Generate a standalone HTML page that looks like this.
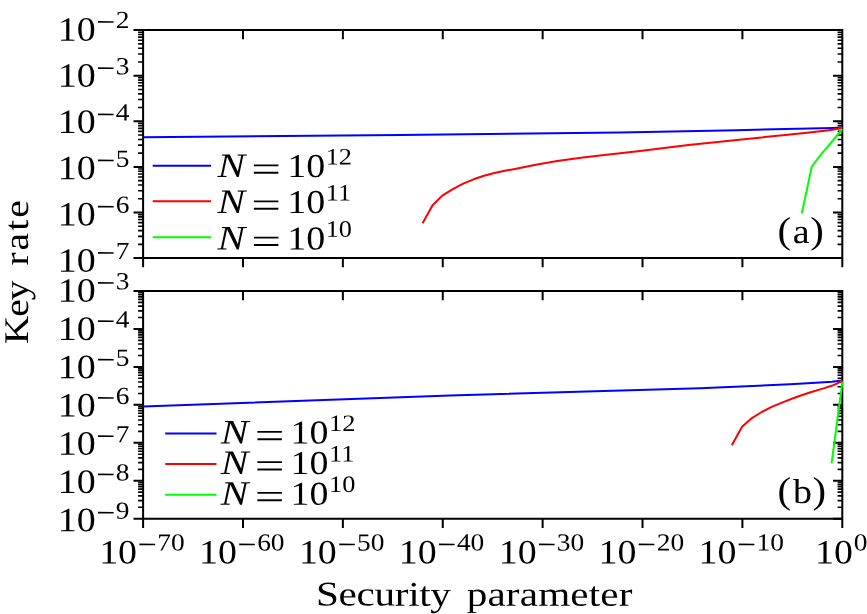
<!DOCTYPE html>
<html><head><meta charset="utf-8"><title>Key rate vs security parameter</title>
<style>
html,body{margin:0;padding:0;background:#fff}
svg{display:block}
text{font-family:"Liberation Serif",serif;fill:#000;text-rendering:geometricPrecision}
.ax{stroke:#000;stroke-width:2;fill:none}
.mt{stroke:#000;stroke-width:1.6;fill:none}
.c{fill:none;stroke-width:2;stroke-linejoin:round}
.b{stroke:#0000ff}.r{stroke:#ff0000}.g{stroke:#00ff00}
</style></head><body>
<svg width="867" height="614" viewBox="0 0 867 614">
<rect width="867" height="614" fill="#fff"/>
<path d="M133.50 30.10H843.30M133.50 258.10H843.30M143.10 29.10V267.30M842.30 29.10V267.30" class="ax"/>
<path d="M833.00 30.10H842.30M133.50 75.70H143.10M833.00 75.70H842.30M133.50 121.30H143.10M833.00 121.30H842.30M133.50 166.90H143.10M833.00 166.90H842.30M133.50 212.50H143.10M833.00 212.50H842.30M833.00 258.10H842.30M242.99 30.10v9.2M242.99 258.10v9.2M342.87 30.10v9.2M342.87 258.10v9.2M442.76 30.10v9.2M442.76 258.10v9.2M542.64 30.10v9.2M542.64 258.10v9.2M642.53 30.10v9.2M642.53 258.10v9.2M742.41 30.10v9.2M742.41 258.10v9.2" class="ax"/>
<path d="M138.10 61.97H143.10M837.60 61.97H842.30M138.10 53.94H143.10M837.60 53.94H842.30M138.10 48.25H143.10M837.60 48.25H842.30M138.10 43.83H143.10M837.60 43.83H842.30M138.10 40.22H143.10M837.60 40.22H842.30M138.10 37.16H143.10M837.60 37.16H842.30M138.10 34.52H143.10M837.60 34.52H842.30M138.10 32.19H143.10M837.60 32.19H842.30M138.10 107.57H143.10M837.60 107.57H842.30M138.10 99.54H143.10M837.60 99.54H842.30M138.10 93.85H143.10M837.60 93.85H842.30M138.10 89.43H143.10M837.60 89.43H842.30M138.10 85.82H143.10M837.60 85.82H842.30M138.10 82.76H143.10M837.60 82.76H842.30M138.10 80.12H143.10M837.60 80.12H842.30M138.10 77.79H143.10M837.60 77.79H842.30M138.10 153.17H143.10M837.60 153.17H842.30M138.10 145.14H143.10M837.60 145.14H842.30M138.10 139.45H143.10M837.60 139.45H842.30M138.10 135.03H143.10M837.60 135.03H842.30M138.10 131.42H143.10M837.60 131.42H842.30M138.10 128.36H143.10M837.60 128.36H842.30M138.10 125.72H143.10M837.60 125.72H842.30M138.10 123.39H143.10M837.60 123.39H842.30M138.10 198.77H143.10M837.60 198.77H842.30M138.10 190.74H143.10M837.60 190.74H842.30M138.10 185.05H143.10M837.60 185.05H842.30M138.10 180.63H143.10M837.60 180.63H842.30M138.10 177.02H143.10M837.60 177.02H842.30M138.10 173.96H143.10M837.60 173.96H842.30M138.10 171.32H143.10M837.60 171.32H842.30M138.10 168.99H143.10M837.60 168.99H842.30M138.10 244.37H143.10M837.60 244.37H842.30M138.10 236.34H143.10M837.60 236.34H842.30M138.10 230.65H143.10M837.60 230.65H842.30M138.10 226.23H143.10M837.60 226.23H842.30M138.10 222.62H143.10M837.60 222.62H842.30M138.10 219.56H143.10M837.60 219.56H842.30M138.10 216.92H143.10M837.60 216.92H842.30M138.10 214.59H143.10M837.60 214.59H842.30" class="mt"/>
<text transform="translate(57.68 40.64) scale(1.1094 1) rotate(0.03)" font-size="34.20">10</text>
<text transform="translate(96.21 33.25) scale(0.9930 1) rotate(0.03)" font-size="34.00">−</text>
<text transform="translate(115.80 28.04) scale(1.1150 1) rotate(0.03)" font-size="24.60">2</text>
<text transform="translate(57.68 86.84) scale(1.1094 1) rotate(0.03)" font-size="34.20">10</text>
<text transform="translate(96.21 79.44) scale(0.9930 1) rotate(0.03)" font-size="34.00">−</text>
<text transform="translate(115.80 74.24) scale(1.1150 1) rotate(0.03)" font-size="24.60">3</text>
<text transform="translate(57.68 133.04) scale(1.1094 1) rotate(0.03)" font-size="34.20">10</text>
<text transform="translate(96.21 125.64) scale(0.9930 1) rotate(0.03)" font-size="34.00">−</text>
<text transform="translate(115.80 120.44) scale(1.1150 1) rotate(0.03)" font-size="24.60">4</text>
<text transform="translate(57.68 179.24) scale(1.1094 1) rotate(0.03)" font-size="34.20">10</text>
<text transform="translate(96.21 171.84) scale(0.9930 1) rotate(0.03)" font-size="34.00">−</text>
<text transform="translate(115.80 166.64) scale(1.1150 1) rotate(0.03)" font-size="24.60">5</text>
<text transform="translate(57.68 225.44) scale(1.1094 1) rotate(0.03)" font-size="34.20">10</text>
<text transform="translate(96.21 218.04) scale(0.9930 1) rotate(0.03)" font-size="34.00">−</text>
<text transform="translate(115.80 212.84) scale(1.1150 1) rotate(0.03)" font-size="24.60">6</text>
<text transform="translate(57.68 271.64) scale(1.1094 1) rotate(0.03)" font-size="34.20">10</text>
<text transform="translate(96.21 264.24) scale(0.9930 1) rotate(0.03)" font-size="34.00">−</text>
<text transform="translate(115.80 259.04) scale(1.1150 1) rotate(0.03)" font-size="24.60">7</text>
<path d="M133.50 291.00H843.30M133.50 518.70H843.30M143.10 290.00V527.90M842.30 290.00V527.90" class="ax"/>
<path d="M833.00 291.00H842.30M133.50 328.95H143.10M833.00 328.95H842.30M133.50 366.90H143.10M833.00 366.90H842.30M133.50 404.85H143.10M833.00 404.85H842.30M133.50 442.80H143.10M833.00 442.80H842.30M133.50 480.75H143.10M833.00 480.75H842.30M833.00 518.70H842.30M242.99 291.00v9.2M242.99 518.70v9.2M342.87 291.00v9.2M342.87 518.70v9.2M442.76 291.00v9.2M442.76 518.70v9.2M542.64 291.00v9.2M542.64 518.70v9.2M642.53 291.00v9.2M642.53 518.70v9.2M742.41 291.00v9.2M742.41 518.70v9.2" class="ax"/>
<path d="M138.10 317.53H143.10M837.60 317.53H842.30M138.10 310.84H143.10M837.60 310.84H842.30M138.10 306.10H143.10M837.60 306.10H842.30M138.10 302.42H143.10M837.60 302.42H842.30M138.10 299.42H143.10M837.60 299.42H842.30M138.10 296.88H143.10M837.60 296.88H842.30M138.10 294.68H143.10M837.60 294.68H842.30M138.10 292.74H143.10M837.60 292.74H842.30M138.10 355.48H143.10M837.60 355.48H842.30M138.10 348.79H143.10M837.60 348.79H842.30M138.10 344.05H143.10M837.60 344.05H842.30M138.10 340.37H143.10M837.60 340.37H842.30M138.10 337.37H143.10M837.60 337.37H842.30M138.10 334.83H143.10M837.60 334.83H842.30M138.10 332.63H143.10M837.60 332.63H842.30M138.10 330.69H143.10M837.60 330.69H842.30M138.10 393.43H143.10M837.60 393.43H842.30M138.10 386.74H143.10M837.60 386.74H842.30M138.10 382.00H143.10M837.60 382.00H842.30M138.10 378.32H143.10M837.60 378.32H842.30M138.10 375.32H143.10M837.60 375.32H842.30M138.10 372.78H143.10M837.60 372.78H842.30M138.10 370.58H143.10M837.60 370.58H842.30M138.10 368.64H143.10M837.60 368.64H842.30M138.10 431.38H143.10M837.60 431.38H842.30M138.10 424.69H143.10M837.60 424.69H842.30M138.10 419.95H143.10M837.60 419.95H842.30M138.10 416.27H143.10M837.60 416.27H842.30M138.10 413.27H143.10M837.60 413.27H842.30M138.10 410.73H143.10M837.60 410.73H842.30M138.10 408.53H143.10M837.60 408.53H842.30M138.10 406.59H143.10M837.60 406.59H842.30M138.10 469.33H143.10M837.60 469.33H842.30M138.10 462.64H143.10M837.60 462.64H842.30M138.10 457.90H143.10M837.60 457.90H842.30M138.10 454.22H143.10M837.60 454.22H842.30M138.10 451.22H143.10M837.60 451.22H842.30M138.10 448.68H143.10M837.60 448.68H842.30M138.10 446.48H143.10M837.60 446.48H842.30M138.10 444.54H143.10M837.60 444.54H842.30M138.10 507.28H143.10M837.60 507.28H842.30M138.10 500.59H143.10M837.60 500.59H842.30M138.10 495.85H143.10M837.60 495.85H842.30M138.10 492.17H143.10M837.60 492.17H842.30M138.10 489.17H143.10M837.60 489.17H842.30M138.10 486.63H143.10M837.60 486.63H842.30M138.10 484.43H143.10M837.60 484.43H842.30M138.10 482.49H143.10M837.60 482.49H842.30" class="mt"/>
<text transform="translate(57.68 301.74) scale(1.1094 1) rotate(0.03)" font-size="34.20">10</text>
<text transform="translate(96.21 294.35) scale(0.9930 1) rotate(0.03)" font-size="34.00">−</text>
<text transform="translate(115.80 289.14) scale(1.1150 1) rotate(0.03)" font-size="24.60">3</text>
<text transform="translate(57.68 340.00) scale(1.1094 1) rotate(0.03)" font-size="34.20">10</text>
<text transform="translate(96.21 332.61) scale(0.9930 1) rotate(0.03)" font-size="34.00">−</text>
<text transform="translate(115.80 327.40) scale(1.1150 1) rotate(0.03)" font-size="24.60">4</text>
<text transform="translate(57.68 378.27) scale(1.1094 1) rotate(0.03)" font-size="34.20">10</text>
<text transform="translate(96.21 370.88) scale(0.9930 1) rotate(0.03)" font-size="34.00">−</text>
<text transform="translate(115.80 365.67) scale(1.1150 1) rotate(0.03)" font-size="24.60">5</text>
<text transform="translate(57.68 416.54) scale(1.1094 1) rotate(0.03)" font-size="34.20">10</text>
<text transform="translate(96.21 409.14) scale(0.9930 1) rotate(0.03)" font-size="34.00">−</text>
<text transform="translate(115.80 403.94) scale(1.1150 1) rotate(0.03)" font-size="24.60">6</text>
<text transform="translate(57.68 454.80) scale(1.1094 1) rotate(0.03)" font-size="34.20">10</text>
<text transform="translate(96.21 447.41) scale(0.9930 1) rotate(0.03)" font-size="34.00">−</text>
<text transform="translate(115.80 442.20) scale(1.1150 1) rotate(0.03)" font-size="24.60">7</text>
<text transform="translate(57.68 493.06) scale(1.1094 1) rotate(0.03)" font-size="34.20">10</text>
<text transform="translate(96.21 485.67) scale(0.9930 1) rotate(0.03)" font-size="34.00">−</text>
<text transform="translate(115.80 480.46) scale(1.1150 1) rotate(0.03)" font-size="24.60">8</text>
<text transform="translate(57.68 531.33) scale(1.1094 1) rotate(0.03)" font-size="34.20">10</text>
<text transform="translate(96.21 523.94) scale(0.9930 1) rotate(0.03)" font-size="34.00">−</text>
<text transform="translate(115.80 518.73) scale(1.1150 1) rotate(0.03)" font-size="24.60">9</text>
<text transform="translate(99.13 563.40) scale(1.1094 1) rotate(0.03)" font-size="34.20">10</text>
<text transform="translate(137.66 555.81) scale(0.9930 1) rotate(0.03)" font-size="34.00">−</text>
<text transform="translate(157.25 550.60) scale(1.1150 1) rotate(0.03)" font-size="24.60">70</text>
<text transform="translate(199.02 563.40) scale(1.1094 1) rotate(0.03)" font-size="34.20">10</text>
<text transform="translate(237.55 555.81) scale(0.9930 1) rotate(0.03)" font-size="34.00">−</text>
<text transform="translate(257.14 550.60) scale(1.1150 1) rotate(0.03)" font-size="24.60">60</text>
<text transform="translate(298.90 563.40) scale(1.1094 1) rotate(0.03)" font-size="34.20">10</text>
<text transform="translate(337.43 555.81) scale(0.9930 1) rotate(0.03)" font-size="34.00">−</text>
<text transform="translate(357.02 550.60) scale(1.1150 1) rotate(0.03)" font-size="24.60">50</text>
<text transform="translate(398.79 563.40) scale(1.1094 1) rotate(0.03)" font-size="34.20">10</text>
<text transform="translate(437.32 555.81) scale(0.9930 1) rotate(0.03)" font-size="34.00">−</text>
<text transform="translate(456.91 550.60) scale(1.1150 1) rotate(0.03)" font-size="24.60">40</text>
<text transform="translate(498.67 563.40) scale(1.1094 1) rotate(0.03)" font-size="34.20">10</text>
<text transform="translate(537.20 555.81) scale(0.9930 1) rotate(0.03)" font-size="34.00">−</text>
<text transform="translate(556.79 550.60) scale(1.1150 1) rotate(0.03)" font-size="24.60">30</text>
<text transform="translate(598.56 563.40) scale(1.1094 1) rotate(0.03)" font-size="34.20">10</text>
<text transform="translate(637.09 555.81) scale(0.9930 1) rotate(0.03)" font-size="34.00">−</text>
<text transform="translate(656.68 550.60) scale(1.1150 1) rotate(0.03)" font-size="24.60">20</text>
<text transform="translate(698.44 563.40) scale(1.1094 1) rotate(0.03)" font-size="34.20">10</text>
<text transform="translate(736.98 555.81) scale(0.9930 1) rotate(0.03)" font-size="34.00">−</text>
<text transform="translate(756.56 550.60) scale(1.1150 1) rotate(0.03)" font-size="24.60">10</text>
<text transform="translate(815.08 563.40) scale(1.1094 1) rotate(0.03)" font-size="34.20">10</text>
<text transform="translate(853.77 550.60) scale(1.1150 1) rotate(0.03)" font-size="24.60">0</text>
<path class="c b" d="M143.1 137.3 L400 135 L620 132.6 L737 130.2 L833 127.9 L842.4 127.5"/>
<path class="c r" d="M422.6 223.2 L432.6 205.3 L442.3 195.6 L452.8 189.1 L463.2 183.6 L473.6 179.3 L484 175.8 L494.4 173.05 L504.8 170.8 L515 168.9 L534.5 164.9 L557.3 160.9 L582.7 157.4 L600 155.4 L620 153.3 L640 151 L688.4 144.9 L736.9 139.9 L785.3 135 L809.5 132.6 L828.9 130.3 L838 128.7 L842.4 127.3"/>
<path class="c g" d="M801.8 213.5 L811.8 166.5 L821.9 153.4 L831.7 142 L842.3 129"/>
<path class="c b" d="M143.1 406.6 L450 395.5 L700 388.3 L790 384.3 L816 382.8 L832 381.7 L842.4 380.5"/>
<path class="c r" d="M731.8 445.3 L742.1 426.7 L751.9 418.1 L761.7 412 L772.2 406.7 L782 402.6 L791.8 398.8 L801.6 395.25 L811.4 392 L821.1 389.1 L831.7 385.8 L837.4 383.4 L842.4 380.4"/>
<path class="c g" d="M831.6 463.3 L842.4 381.6"/>
<path class="c b" d="M152.7 165.65H211"/>
<text transform="translate(217.41 177.10) scale(1.2032 1) rotate(0.03)" font-size="34.40" font-style="italic">N</text>
<text transform="translate(251.37 181.19) scale(1.4317 1) rotate(0.03)" font-size="36.80">=</text>
<text transform="translate(287.28 177.10) scale(1.1394 1) rotate(0.03)" font-size="33.30">10</text>
<text transform="translate(325.70 164.50) scale(1.1150 1) rotate(0.03)" font-size="23.60">12</text>
<path class="c r" d="M152.7 201.15H211"/>
<text transform="translate(217.41 213.10) scale(1.2032 1) rotate(0.03)" font-size="34.40" font-style="italic">N</text>
<text transform="translate(251.37 217.19) scale(1.4317 1) rotate(0.03)" font-size="36.80">=</text>
<text transform="translate(287.28 213.10) scale(1.1394 1) rotate(0.03)" font-size="33.30">10</text>
<text transform="translate(325.70 200.50) scale(1.1150 1) rotate(0.03)" font-size="23.60">11</text>
<path class="c g" d="M152.7 237.15H211"/>
<text transform="translate(217.41 249.40) scale(1.2032 1) rotate(0.03)" font-size="34.40" font-style="italic">N</text>
<text transform="translate(251.37 253.49) scale(1.4317 1) rotate(0.03)" font-size="36.80">=</text>
<text transform="translate(287.28 249.40) scale(1.1394 1) rotate(0.03)" font-size="33.30">10</text>
<text transform="translate(325.70 236.80) scale(1.1150 1) rotate(0.03)" font-size="23.60">10</text>
<path class="c b" d="M165.2 433.5H216.5"/>
<text transform="translate(220.71 443.60) scale(1.2032 1) rotate(0.03)" font-size="34.40" font-style="italic">N</text>
<text transform="translate(254.67 447.69) scale(1.4317 1) rotate(0.03)" font-size="36.80">=</text>
<text transform="translate(290.58 443.60) scale(1.1394 1) rotate(0.03)" font-size="33.30">10</text>
<text transform="translate(329.00 431.00) scale(1.1150 1) rotate(0.03)" font-size="23.60">12</text>
<path class="c r" d="M165.2 464.0H216.5"/>
<text transform="translate(220.71 474.00) scale(1.2032 1) rotate(0.03)" font-size="34.40" font-style="italic">N</text>
<text transform="translate(254.67 478.09) scale(1.4317 1) rotate(0.03)" font-size="36.80">=</text>
<text transform="translate(290.58 474.00) scale(1.1394 1) rotate(0.03)" font-size="33.30">10</text>
<text transform="translate(329.00 461.40) scale(1.1150 1) rotate(0.03)" font-size="23.60">11</text>
<path class="c g" d="M165.2 494.7H216.5"/>
<text transform="translate(220.71 504.70) scale(1.2032 1) rotate(0.03)" font-size="34.40" font-style="italic">N</text>
<text transform="translate(254.67 508.79) scale(1.4317 1) rotate(0.03)" font-size="36.80">=</text>
<text transform="translate(290.58 504.70) scale(1.1394 1) rotate(0.03)" font-size="33.30">10</text>
<text transform="translate(329.00 492.10) scale(1.1150 1) rotate(0.03)" font-size="23.60">10</text>
<text transform="translate(780.00 243.00) scale(1.1000 1) rotate(0.03)"><tspan x="-2.22" y="-0.25" font-size="37.10">(</tspan><tspan x="11.52" y="0.00" font-size="34.50">a</tspan><tspan x="27.61" y="-0.25" font-size="37.10">)</tspan></text>
<text transform="translate(780.00 503.00) scale(1.1000 1) rotate(0.03)"><tspan x="-2.22" y="-0.25" font-size="37.10">(</tspan><tspan x="11.89" y="0.00" font-size="34.50">b</tspan><tspan x="29.47" y="-0.25" font-size="37.10">)</tspan></text>
<text transform="translate(318.8 605.6) scale(1.1908 1) rotate(0.03)" font-size="34.60"><tspan x="-2.34" letter-spacing="-0.277">Security</tspan> <tspan x="124.19" letter-spacing="0.129">parameter</tspan></text>
<text transform="translate(28.0 343.0) rotate(-90) scale(1.1416 1) rotate(0.03)" font-size="34.60"><tspan x="-1.04" letter-spacing="-0.913">Key</tspan> <tspan x="67.81" letter-spacing="1.817">rate</tspan></text>
</svg>
</body></html>
